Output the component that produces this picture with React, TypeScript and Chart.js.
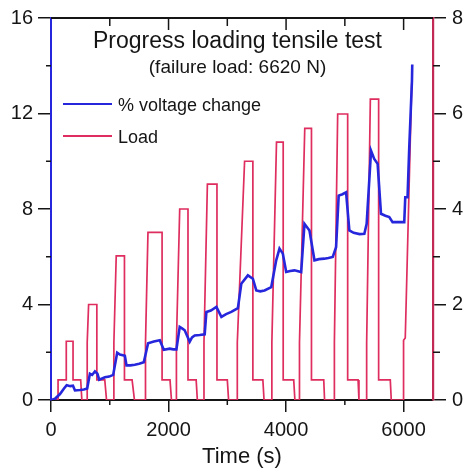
import React, { useEffect, useRef } from "react";
import { Chart, registerables } from "chart.js";

Chart.register(...registerables);

const FONT = "'Liberation Sans', Arial, sans-serif";
const BLUE = "#2626dc";
const PINK = "#de2d5e";
const RIGHT_AXIS = "#c22a55";
const INK = "#151515";

// % voltage change (left axis) versus time in seconds
const voltageTime = [
  0, 68, 153, 221, 267, 330, 374, 408, 492, 560, 616, 662, 700, 747, 790, 820, 870, 917, 990, 1058,
  1126, 1172, 1257, 1285, 1350, 1426, 1500, 1579, 1652, 1750, 1851, 1919, 2021, 2080, 2134, 2190,
  2230, 2275, 2360, 2400, 2445, 2530, 2615, 2644, 2720, 2814, 2899, 2980, 3068, 3180, 3238, 3350,
  3435, 3493, 3560, 3634, 3748, 3832, 3888, 3945, 4002, 4070, 4143, 4257, 4313, 4398, 4483, 4560,
  4650, 4720, 4794, 4851, 4895, 4960, 5021, 5077, 5150, 5250, 5332, 5371, 5446, 5500, 5558, 5615,
  5690, 5756, 5812, 5900, 6011, 6028, 6067, 6096, 6142, 6147,
];
const voltageValue = [
  0, 0.05, 0.25, 0.48, 0.62, 0.58, 0.6, 0.4, 0.42, 0.44, 0.48, 1.1, 1.05, 1.2, 1.1, 0.85, 0.9, 0.95, 0.98, 1.05,
  1.98, 1.9, 1.85, 1.45, 1.45, 1.48, 1.52, 1.58, 2.38, 2.45, 2.5, 2.1, 2.15, 2.12, 2.12, 3.06,
  3.0, 2.92, 2.44, 2.62, 2.7, 2.72, 2.75, 3.69, 3.75, 3.9, 3.48, 3.6, 3.69, 3.85, 4.87, 5.22,
  5.08, 4.59, 4.55, 4.59, 4.73, 5.85, 6.34, 6.13, 5.36, 5.4, 5.43, 5.36, 7.38, 7.1, 5.85, 5.9,
  5.92, 5.95, 5.99, 6.4, 8.56, 8.62, 8.7, 7.1, 7.0, 6.95, 6.96, 7.38, 10.44, 10.1, 9.89, 7.8,
  7.72, 7.66, 7.45, 7.45, 7.45, 8.49, 8.49, 10.58, 13.37, 14.05,
];

// applied load in kN (right axis) versus time in seconds
const loadTime = [
  0, 120, 120, 260, 260, 375, 375, 505, 525,
  616, 616, 640, 780, 780, 915, 945,
  1070, 1070, 1110, 1250, 1250, 1380, 1420,
  1608, 1608, 1650, 1890, 1890, 2025, 2050,
  2134, 2134, 2190, 2331, 2331, 2470, 2490,
  2603, 2603, 2661, 2824, 2824, 3000, 3022,
  3170, 3170, 3294, 3435, 3435, 3605, 3625,
  3758, 3758, 3837, 3951, 3951, 4130, 4150,
  4228, 4228, 4318, 4432, 4432, 4641, 4655,
  4822, 4822, 4878, 5048, 5048, 5225, 5240,
  5371, 5371, 5434, 5575, 5575, 5773, 5790,
  5999, 5999, 6028, 6138,
];
const loadValue = [
  0, 0, 0.42, 0.42, 1.23, 1.23, 0.42, 0.42, 0,
  0, 1.2, 2.0, 2.0, 0.42, 0.42, 0,
  0, 1.2, 3.02, 3.02, 0.42, 0.42, 0,
  0, 1.2, 3.51, 3.51, 0.42, 0.42, 0,
  0, 1.2, 4.0, 4.0, 0.42, 0.42, 0,
  0, 1.2, 4.52, 4.52, 0.42, 0.42, 0,
  0, 1.2, 5.0, 5.0, 0.42, 0.42, 0,
  0, 1.2, 5.4, 5.4, 0.42, 0.42, 0,
  0, 1.2, 5.69, 5.69, 0.42, 0.42, 0,
  0, 1.2, 5.99, 5.99, 0.42, 0.42, 0,
  0, 1.2, 6.3, 6.3, 0.42, 0.42, 0,
  0, 1.25, 1.3, 6.62,
];

const xMajorTicks = [0, 2000, 4000, 6000];
const xMinorTicks = [1000, 3000, 5000];
const leftMinorTicks = [2, 6, 10, 14];
const rightMinorTicks = [1, 3, 5, 7];

const titleText = "Progress loading tensile test";
const subtitleText = "(failure load: 6620 N)";
const legendItems = [
  { label: "% voltage change", color: BLUE },
  { label: "Load", color: PINK },
];

const plainLabel = (v: any) => String(v);

const frameAndText = {
  id: "frameAndText",
  afterDraw(chart: any) {
    const { ctx, chartArea: a, scales } = chart;
    const xs = scales.x;
    const yl = scales.y;
    const yr = scales.y1;
    const seg = (x1: number, y1: number, x2: number, y2: number) => {
      ctx.beginPath();
      ctx.moveTo(x1, y1);
      ctx.lineTo(x2, y2);
      ctx.stroke();
    };
    ctx.save();
    ctx.strokeStyle = INK;
    // top frame edge with inward ticks
    ctx.lineWidth = 2;
    seg(a.left, a.top, a.right, a.top);
    ctx.lineWidth = 1.5;
    [...xMajorTicks, ...xMinorTicks].forEach((v) => {
      const px = xs.getPixelForValue(v);
      const len = v % 2000 === 0 ? 12 : 8;
      if (v > 0) seg(px, a.top, px, a.top + len);
    });
    // minor ticks on bottom, left and right axes
    xMinorTicks.forEach((v) => {
      const px = xs.getPixelForValue(v);
      seg(px, a.bottom, px, a.bottom + 5);
    });
    leftMinorTicks.forEach((v) => {
      const py = yl.getPixelForValue(v);
      seg(a.left - 5, py, a.left, py);
    });
    rightMinorTicks.forEach((v) => {
      const py = yr.getPixelForValue(v);
      seg(a.right, py, a.right + 7, py);
    });

    // title block
    ctx.fillStyle = INK;
    ctx.textAlign = "center";
    ctx.textBaseline = "alphabetic";
    ctx.font = `23px ${FONT}`;
    ctx.fillText(titleText, 237.5, 48);
    ctx.font = `19px ${FONT}`;
    ctx.fillText(subtitleText, 237.5, 73);

    // legend
    ctx.textAlign = "left";
    ctx.font = `18px ${FONT}`;
    legendItems.forEach((item, i) => {
      const ly = 104 + i * 32;
      ctx.strokeStyle = item.color;
      ctx.lineWidth = 2;
      seg(63, ly, 112, ly);
      ctx.fillStyle = INK;
      ctx.fillText(item.label, 118, ly + 6.5);
    });
    ctx.restore();
  },
};

export default function App() {
  const canvasRef = useRef<HTMLCanvasElement | null>(null);

  useEffect(() => {
    if (!canvasRef.current) return;
    const tickFont = { family: FONT, size: 20 };
    const chart = new Chart(canvasRef.current, {
      type: "line",
      data: {
        datasets: [
          {
            label: legendItems[0].label,
            data: voltageTime.map((t, i) => ({ x: t, y: voltageValue[i] })),
            borderColor: BLUE,
            borderWidth: 2.6,
            pointRadius: 0,
            tension: 0,
            yAxisID: "y",
          },
          {
            label: legendItems[1].label,
            data: loadTime.map((t, i) => ({ x: t, y: loadValue[i] })),
            borderColor: PINK,
            borderWidth: 1.7,
            pointRadius: 0,
            tension: 0,
            yAxisID: "y1",
          },
        ],
      },
      options: {
        animation: false,
        responsive: false,
        layout: { padding: { top: 17, left: 0, right: 0, bottom: 0 } },
        plugins: { legend: { display: false }, tooltip: { enabled: false } },
        scales: {
          x: {
            type: "linear",
            min: 0,
            max: 6500,
            afterBuildTicks: (s: any) => {
              s.ticks = xMajorTicks.map((v) => ({ value: v }));
            },
            afterFit: (s: any) => {
              s.height = 74;
            },
            ticks: { font: tickFont, color: INK, padding: 6, maxRotation: 0, autoSkip: false, callback: plainLabel },
            grid: { drawOnChartArea: false, drawTicks: true, tickLength: 12, color: INK, lineWidth: 1.5 },
            border: { color: INK, width: 2 },
            title: {
              display: true,
              text: "Time (s)",
              font: { family: FONT, size: 22 },
              color: INK,
              padding: { top: 0, bottom: 4 },
            },
          },
          y: {
            type: "linear",
            position: "left",
            min: 0,
            max: 16,
            ticks: { stepSize: 4, font: tickFont, color: INK, padding: 5, callback: plainLabel },
            afterFit: (s: any) => {
              s.width = 51;
            },
            grid: { drawOnChartArea: false, drawTicks: true, tickLength: 13, color: INK, lineWidth: 1.5 },
            border: { color: BLUE, width: 2 },
          },
          y1: {
            type: "linear",
            position: "right",
            min: 0,
            max: 8,
            ticks: { stepSize: 2, font: tickFont, color: INK, padding: 6, callback: plainLabel },
            afterFit: (s: any) => {
              s.width = 41;
            },
            grid: { drawOnChartArea: false, drawTicks: true, tickLength: 13, color: INK, lineWidth: 1.5 },
            border: { color: RIGHT_AXIS, width: 2.2 },
          },
        },
      },
      plugins: [frameAndText],
    });
    return () => chart.destroy();
  }, []);

  return (
    <div style={{ position: "absolute", left: 0, top: 0, width: 474, height: 474, background: "#fff" }}>
      <canvas ref={canvasRef} width={474} height={474} style={{ width: 474, height: 474, display: "block" }} />
    </div>
  );
}
